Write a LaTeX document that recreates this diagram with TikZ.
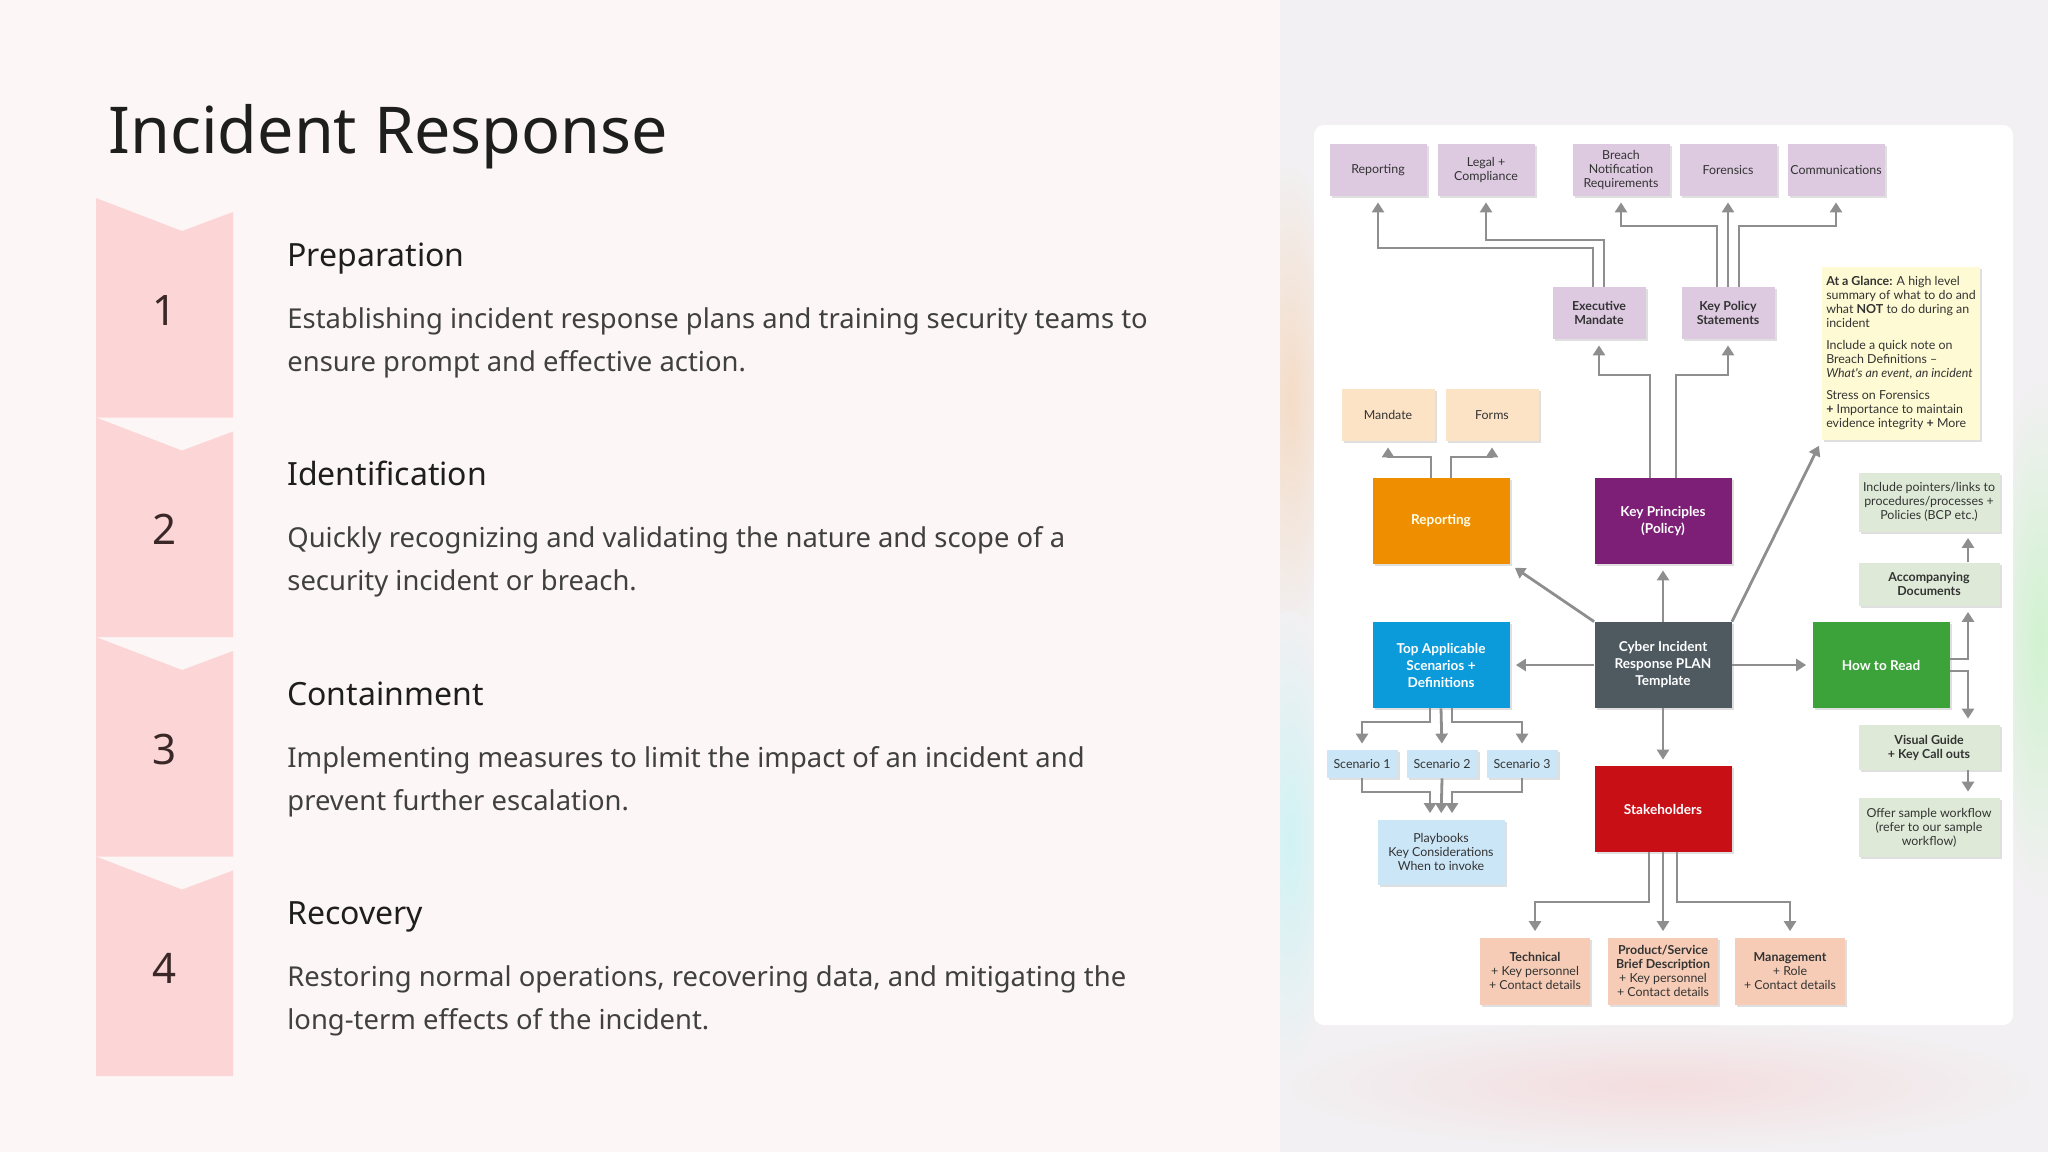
\documentclass[tikz,border=0pt]{standalone}
\usepackage{fontspec}
\setmainfont{Noto Sans}
\newfontfamily\diagfont{Lato}
\usetikzlibrary{arrows.meta, shadows}
\definecolor{pagepink}{HTML}{FDF6F6}
\definecolor{panelgray}{HTML}{F2F0F2}
\definecolor{steppink}{HTML}{FCD6D7}
\definecolor{titleink}{HTML}{1E1E1E}
\definecolor{bodyink}{HTML}{404040}
\definecolor{numink}{HTML}{3A2828}
\definecolor{lavender}{HTML}{DDCAE1}
\definecolor{peach}{HTML}{FCE3C6}
\definecolor{orangebox}{HTML}{EF8F00}
\definecolor{plumbox}{HTML}{7D1F77}
\definecolor{skybox}{HTML}{0B9BDB}
\definecolor{slatebox}{HTML}{4E5A60}
\definecolor{greenbox}{HTML}{3CA23A}
\definecolor{redbox}{HTML}{C80F16}
\definecolor{paleblue}{HTML}{CBE6F7}
\definecolor{salmon}{HTML}{F6CCB6}
\definecolor{palegreen}{HTML}{DEEAD7}
\definecolor{noteyellow}{HTML}{FEFBD4}
\definecolor{linkgray}{HTML}{8E8E8E}
\definecolor{boxink}{HTML}{333333}

\begin{document}
\begin{tikzpicture}[
    x=0.5pt, y=-0.5pt,
    >=Stealth,
    diag/.style={
        align=center, inner sep=1pt, text=boxink,
        font=\diagfont\fontsize{6.2}{7}\selectfont,
        drop shadow={shadow xshift=1.2pt, shadow yshift=-1.2pt, opacity=0.25},
    },
    lightbox/.style={diag, minimum width=48.5pt, minimum height=26pt},
    topbox/.style={lightbox, fill=lavender},
    boldbox/.style={lightbox, fill=lavender, minimum width=46.5pt,
        font=\diagfont\bfseries\fontsize{6.2}{7}\selectfont},
    formbox/.style={lightbox, fill=peach, minimum width=46.5pt},
    bigbox/.style={
        diag, minimum width=68.5pt, minimum height=43pt, text=white,
        font=\diagfont\bfseries\fontsize{6.8}{8.5}\selectfont,
    },
    sidebox/.style={diag, fill=palegreen, minimum width=70.5pt},
    scenbox/.style={diag, fill=paleblue, minimum width=35.5pt, minimum height=14pt},
    rolebox/.style={diag, fill=salmon, minimum width=55pt, minimum height=33.5pt},
    link/.style={draw=linkgray, line width=1.4pt, -{Triangle[width=6pt,length=5pt]}, shorten >=3pt},
]

% Backgrounds
\fill[pagepink] (0,0) rectangle (2048,1152);
\fill[panelgray] (1280,0) rectangle (2048,1152);
\begin{scope}
    \clip (1280,0) rectangle (2048,1152);
    \shade[inner color=orange!18!panelgray, outer color=panelgray] (1290,400) ellipse (50 and 240);
    \shade[inner color=cyan!14!panelgray, outer color=panelgray] (1290,840) ellipse (50 and 230);
    \shade[inner color=green!14!panelgray, outer color=panelgray] (2040,640) ellipse (55 and 260);
    \shade[inner color=red!8!panelgray, outer color=panelgray] (1660,1085) ellipse (380 and 65);
\end{scope}
\fill[white, rounded corners=5pt] (1314,125) rectangle (2013,1025);

% Title
\node[anchor=base west, inner sep=0, text=titleink, font=\fontsize{32.3}{40}\selectfont] (title) at (108,153) {Incident Response};

% Steps
\foreach \n/\ty/\head/\lineA/\lineB in {
    1/198/Preparation/{Establishing incident response plans and training security teams to}/{ensure prompt and effective action.},
    2/417.5/Identification/{Quickly recognizing and validating the nature and scope of a}/{security incident or breach.},
    3/637/Containment/{Implementing measures to limit the impact of an incident and}/{prevent further escalation.},
    4/856.5/Recovery/{Restoring normal operations, recovering data, and mitigating the}/{long-term effects of the incident.}}
{
    \fill[steppink] (96,\ty) -- (182,\ty+33) -- (233,\ty+14) -- (233,\ty+219.5) -- (96,\ty+219.5) -- cycle;
    \node[text=numink, font=\fontsize{21}{24}\selectfont] (num\n) at (165,\ty+112) {\n};
    \node[anchor=base west, inner sep=0, text=titleink, font=\fontsize{16}{20}\selectfont] (head\n) at (287,\ty+68) {\head};
    \node[anchor=base west, inner sep=0, align=left, text=bodyink, font=\fontsize{13.7}{21.5}\selectfont] (body\n) at (287,\ty+173) {\lineA\\\lineB};
}

% Diagram nodes
\node[topbox] (rep1) at (1378,170) {Reporting};
\node[topbox] (legal) at (1486,170) {Legal +\\Compliance};
\node[topbox] (breach) at (1621,170) {Breach\\Notification\\Requirements};
\node[topbox] (foren) at (1728,170) {Forensics};
\node[topbox] (comm) at (1836,170) {Communications};
\node[boldbox] (exec) at (1599,313) {Executive\\Mandate};
\node[boldbox] (kps) at (1728,313) {Key Policy\\Statements};
\node[diag, fill=noteyellow, align=left, minimum width=79pt, minimum height=86.5pt] (note) at (1901,353.5)
    {\textbf{At a Glance:} A high level\\summary of what to do and\\what \textbf{NOT} to do during an\\incident\\[4pt]
     Include a quick note on\\Breach Definitions –\\\textit{What's an event, an incident}\\[4pt]
     Stress on Forensics\\\textbf{+} Importance to maintain\\evidence integrity \textbf{+} More};
\node[formbox] (mandate) at (1388,415) {Mandate};
\node[formbox] (forms) at (1492,415) {Forms};
\node[bigbox, fill=orangebox, text=yellow!8] (orep) at (1441,521) {Reporting};
\node[bigbox, fill=plumbox] (kp) at (1663,521) {Key Principles\\(Policy)};
\node[sidebox, minimum height=29.5pt] (ptr) at (1929,502) {Include pointers/links to\\procedures/processes +\\Policies (BCP etc.)};
\node[sidebox, minimum height=21.5pt, font=\diagfont\bfseries\fontsize{6.2}{7}\selectfont] (acc) at (1929,584) {Accompanying\\Documents};
\node[bigbox, fill=skybox] (scen) at (1441,665) {Top Applicable\\Scenarios +\\Definitions};
\node[bigbox, fill=slatebox] (cyber) at (1663,665) {Cyber Incident\\Response PLAN\\Template};
\node[bigbox, fill=greenbox] (how) at (1881,665) {How to Read};
\node[sidebox, minimum height=22.5pt, font=\diagfont\bfseries\fontsize{6.2}{7}\selectfont] (vis) at (1929,747.5) {Visual Guide\\+ Key Call outs};
\node[sidebox, minimum height=29.5pt] (offer) at (1929,827.5) {Offer sample workflow\\(refer to our sample\\workflow)};
\node[scenbox] (s1) at (1362,764) {Scenario 1};
\node[scenbox] (s2) at (1442,764) {Scenario 2};
\node[scenbox] (s3) at (1522,764) {Scenario 3};
\node[diag, fill=paleblue, minimum width=63.5pt, minimum height=32.5pt] (play) at (1441,852) {Playbooks\\Key Considerations\\When to invoke};
\node[bigbox, fill=redbox] (stake) at (1663,809) {Stakeholders};
\node[rolebox] (tech) at (1535,971) {\textbf{Technical}\\+ Key personnel\\+ Contact details};
\node[rolebox] (prod) at (1663,971) {\textbf{Product/Service}\\\textbf{Brief Description}\\+ Key personnel\\+ Contact details};
\node[rolebox] (mgmt) at (1790,971) {\textbf{Management}\\+ Role\\+ Contact details};

% Upper branches
\draw[link] ([xshift=-3pt]exec.north) |- (1500,248) -| (rep1.south);
\draw[link] ([xshift=2.5pt]exec.north) |- (1550,240) -| (legal.south);
\draw[link] ([xshift=-5.5pt]kps.north) |- (1680,226) -| (breach.south);
\draw[link] (kps.north) -- (foren.south);
\draw[link] ([xshift=5.5pt]kps.north) |- (1780,226) -| (comm.south);
\draw[link] ([xshift=-6.5pt]kp.north) |- (1630,375) -| (exec.south);
\draw[link] ([xshift=6.5pt]kp.north) |- (1700,375) -| (kps.south);
\draw[link] ([xshift=-5pt]orep.north) |- (1410,457) -| (mandate.south);
\draw[link] ([xshift=5pt]orep.north) |- (1470,457) -| (forms.south);

% From the centre
\draw[link] (cyber.north west) -- (orep.south east);
\draw[link] (cyber.north) -- (kp.south);
\draw[link] (cyber.north east) -- (note.south west);
\draw[link] (cyber.west) -- (scen.east);
\draw[link] (cyber.east) -- (how.west);
\draw[link] (cyber.south) -- (stake.north);

% Reading guide
\draw[link] ([yshift=3pt]how.east) -| ([xshift=19.5pt]acc.south);
\draw[link] ([xshift=19.5pt]acc.north) -- ([xshift=19.5pt]ptr.south);
\draw[link] ([yshift=-3pt]how.east) -| ([xshift=19.5pt]vis.north);
\draw[link] ([xshift=19.5pt]vis.south) -- ([xshift=19.5pt]offer.north);

% Scenarios and playbooks
\draw[link] ([xshift=-5.5pt]scen.south) |- (1400,722) -| (s1.north);
\draw[link] (scen.south) -- (s2.north);
\draw[link] ([xshift=5.5pt]scen.south) |- (1490,722) -| (s3.north);
\draw[link] (s1.south) |- (1400,792) -| ([xshift=-5.5pt]play.north);
\draw[link] (s2.south) -- (play.north);
\draw[link] (s3.south) |- (1490,792) -| ([xshift=5.5pt]play.north);

% Stakeholders
\draw[link] ([xshift=-7pt]stake.south) |- (1600,902) -| (tech.north);
\draw[link] (stake.south) -- (prod.north);
\draw[link] ([xshift=7pt]stake.south) |- (1720,902) -| (mgmt.north);

\end{tikzpicture}
\end{document}
